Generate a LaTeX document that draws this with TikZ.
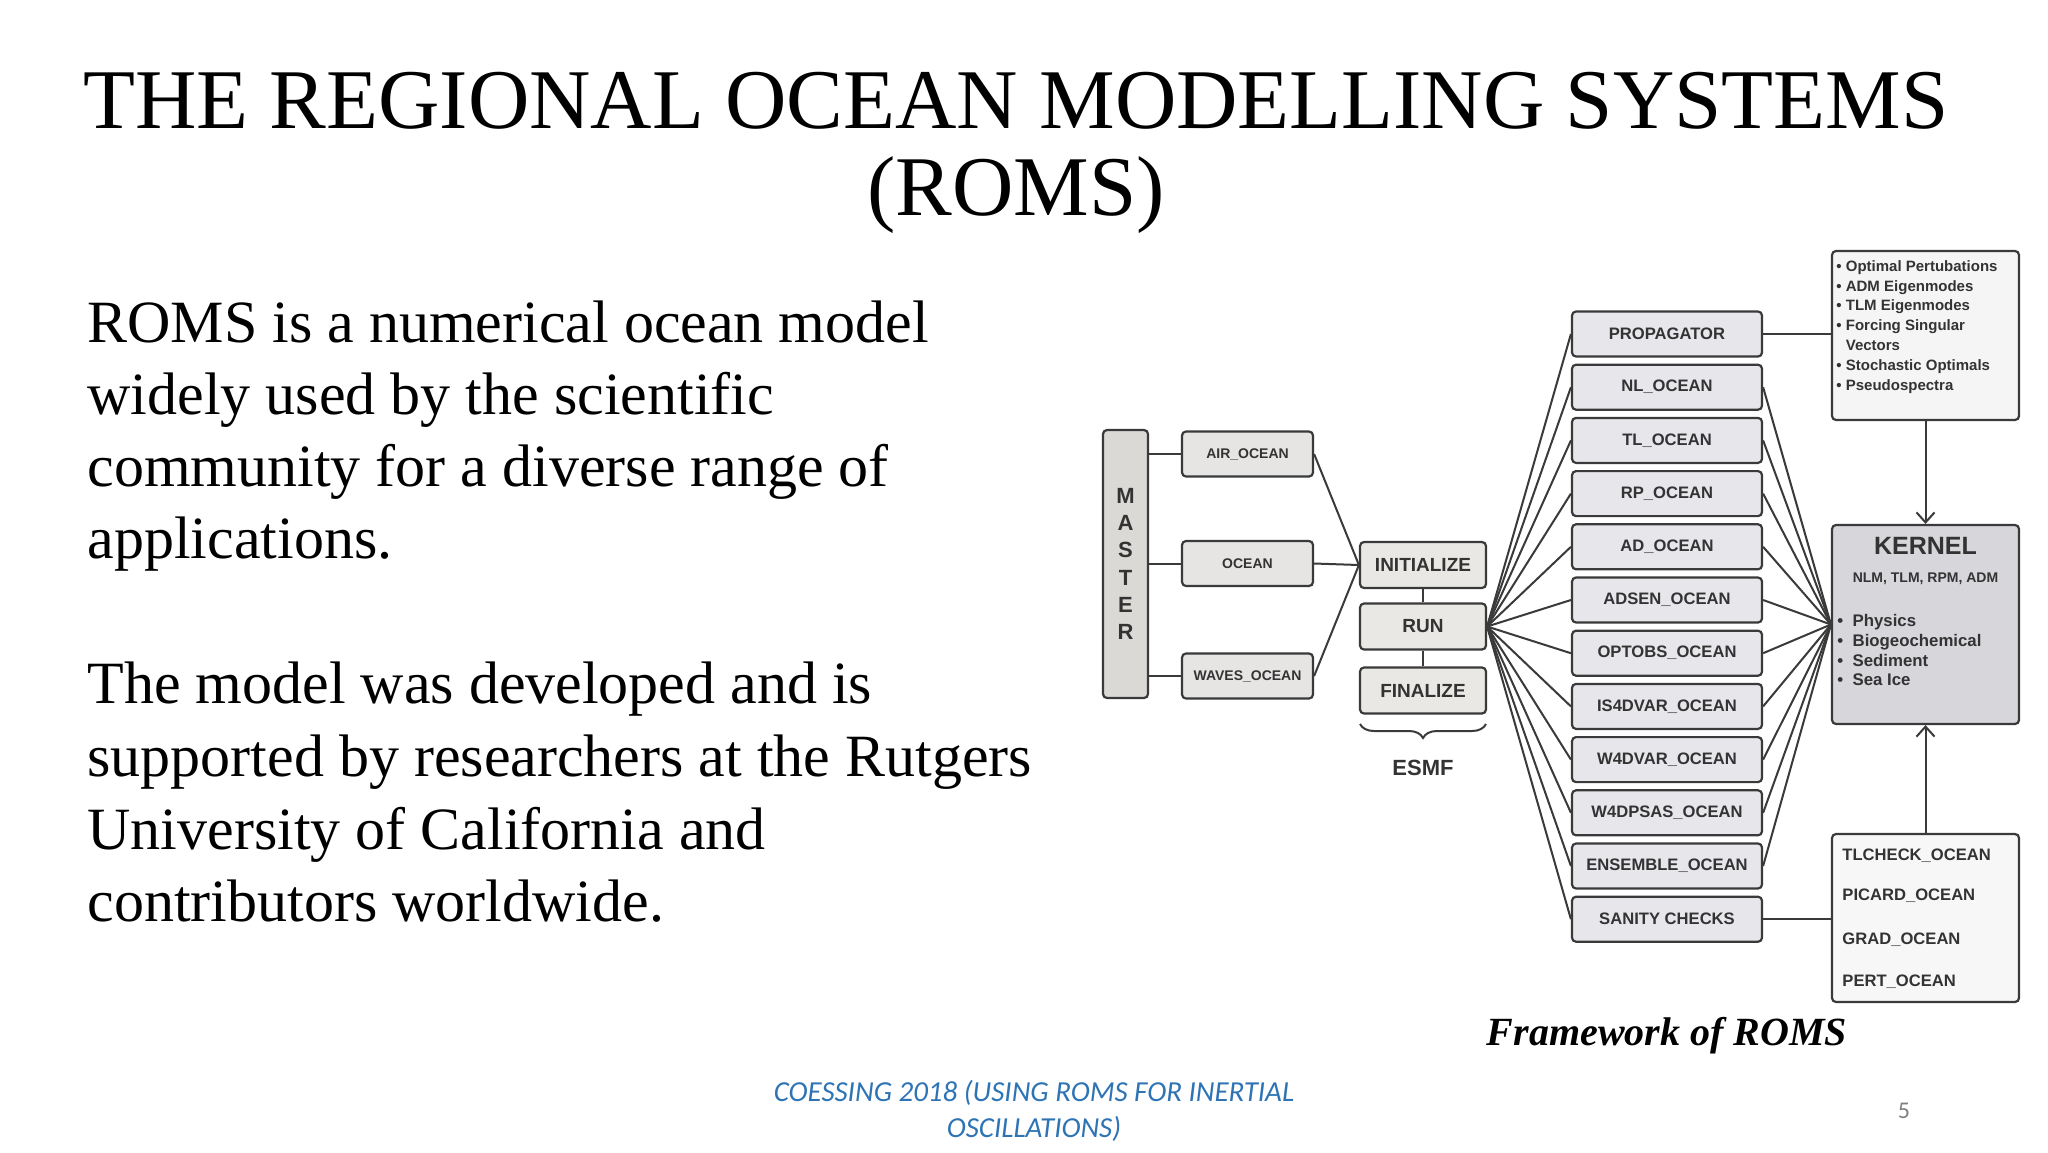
\documentclass[tikz,border=0pt]{standalone}
\usepackage{fontspec}
\setmainfont{Liberation Serif}
\newfontfamily\dsans{Liberation Sans}
\newfontfamily\carl{Carlito}
\usetikzlibrary{arrows.meta,decorations.pathreplacing}
\definecolor{lc}{HTML}{3A3A3A}
\definecolor{txtc}{HTML}{333333}
\definecolor{foot}{HTML}{2E74B5}
\tikzset{
 bx/.style={draw=lc,line width=1.1pt,rounded corners=2pt,inner sep=0pt,font=\dsans\bfseries\fontsize{8.3}{9}\selectfont,text=txtc},
 colbox/.style={bx,fill=gray!20!blue!3!white!85!gray,minimum width=95pt,minimum height=22.5pt},
 leftbox/.style={bx,fill=red!4!gray!20,minimum width=65.5pt,minimum height=22.5pt,font=\dsans\bfseries\fontsize{7}{8}\selectfont},
 esbox/.style={bx,fill=yellow!8!gray!22,minimum width=63pt,minimum height=23pt,font=\dsans\bfseries\fontsize{9.5}{11}\selectfont},
 ln/.style={draw=lc,line width=1pt},
 bodyl/.style={anchor=base west,font=\fontsize{30}{36}\selectfont,inner sep=0pt},
 listt/.style={anchor=west,inner sep=0pt,font=\dsans\bfseries\fontsize{8.3}{9}\selectfont,text=txtc}
}
\begin{document}
\begin{tikzpicture}[x=0.5pt,y=-0.5pt]
\fill[white] (0,0) rectangle (2048,1152);
\useasboundingbox (0,0) rectangle (2048,1152);
% title
\node[font=\fontsize{42.5}{48}\selectfont] (t1) at (1016,101) {THE REGIONAL OCEAN MODELLING SYSTEMS};
\node[font=\fontsize{42.5}{48}\selectfont] (t2) at (1016,195) {(ROMS)};
% body
\node[bodyl] (b1) at (87,342) {ROMS is a numerical ocean model};
\node[bodyl] (b2) at (87,414) {widely used by the scientific};
\node[bodyl] (b3) at (87,486) {community for a diverse range of};
\node[bodyl] (b4) at (87,558) {applications.};
\node[bodyl] (c1) at (87,703) {The model was developed and is};
\node[bodyl] (c2) at (87,776) {supported by researchers at the Rutgers};
\node[bodyl] (c3) at (87,849) {University of California and};
\node[bodyl] (c4) at (87,921) {contributors worldwide.};
% footer
\node[font=\carl\itshape\fontsize{14.5}{17}\selectfont,text=foot] (f1) at (1034,1093) {COESSING 2018 (USING ROMS FOR INERTIAL};
\node[font=\carl\itshape\fontsize{14.5}{17}\selectfont,text=foot] (f2) at (1034,1129) {OSCILLATIONS)};
\node[font=\carl\fontsize{12}{14}\selectfont,text=gray] (pg) at (1904,1111) {5};
\node[font=\bfseries\itshape\fontsize{20}{24}\selectfont] (fw) at (1667,1036) {Framework of ROMS};
% master
\node[bx,fill=brown!12!gray!30,minimum width=22.5pt,minimum height=134pt,font=\dsans\bfseries\fontsize{11}{13.6}\selectfont,align=center] (master) at (1125.5,564) {M\\A\\S\\T\\E\\R};
\node[leftbox] (air) at (1247.5,454) {AIR\_OCEAN};
\node[leftbox] (oce) at (1247.5,563.5) {OCEAN};
\node[leftbox] (wav) at (1247.5,676) {WAVES\_OCEAN};
\node[esbox] (ini) at (1423,565) {INITIALIZE};
\node[esbox] (run) at (1423,626.5) {RUN};
\node[esbox] (fin) at (1423,690.5) {FINALIZE};
\draw[ln,decorate,decoration={brace,mirror,amplitude=7pt}] (1360,724) -- (1486,724) coordinate[midway] (bm);
\node[font=\dsans\bfseries\fontsize{11}{13}\selectfont,text=txtc] (esmf) at (1423,768) {ESMF};
\foreach \n in {air,oce,wav} {\draw[ln] (master.east |- \n.west) -- (\n.west); \draw[ln] (\n.east) -- (ini.west);}
\draw[ln] (ini) -- (run); \draw[ln] (run) -- (fin);
% right column
\foreach \i/\t/\nm in {0/PROPAGATOR/p0,1/NL\_OCEAN/p1,2/TL\_OCEAN/p2,3/RP\_OCEAN/p3,4/AD\_OCEAN/p4,5/ADSEN\_OCEAN/p5,6/OPTOBS\_OCEAN/p6,7/IS4DVAR\_OCEAN/p7,8/W4DVAR\_OCEAN/p8,9/W4DPSAS\_OCEAN/p9,10/ENSEMBLE\_OCEAN/p10,11/SANITY CHECKS/p11}
 {\node[colbox] (\nm) at (1667,334+53.2*\i) {\t}; \draw[ln] (run.east) -- (\nm.west);}
% right boxes
\node[bx,fill=gray!8,minimum width=93.5pt,minimum height=84.5pt] (opt) at (1925.5,335.5) {};
\node[anchor=north west,align=left,inner sep=0pt,font=\dsans\bfseries\fontsize{7.5}{9.9}\selectfont,text=txtc] (optt) at (1836,260)
 {\textbullet\ Optimal Pertubations\\\textbullet\ ADM Eigenmodes\\\textbullet\ TLM Eigenmodes\\\textbullet\ Forcing Singular\\\phantom{\textbullet\ }Vectors\\\textbullet\ Stochastic Optimals\\\textbullet\ Pseudospectra};
\node[bx,fill=blue!6!gray!30,minimum width=93.5pt,minimum height=99.5pt] (ker) at (1925.5,624.5) {};
\node[font=\dsans\bfseries\fontsize{12.5}{14}\selectfont,text=txtc] (kt) at (1925.5,546) {KERNEL};
\node[font=\dsans\bfseries\fontsize{7}{8}\selectfont,text=txtc] (kt2) at (1925.5,579) {NLM, TLM, RPM, ADM};
\node[anchor=north west,align=left,inner sep=0pt,font=\dsans\bfseries\fontsize{8.4}{9.9}\selectfont,text=txtc] (kl) at (1837,614)
 {\textbullet\ \ Physics\\\textbullet\ \ Biogeochemical\\\textbullet\ \ Sediment\\\textbullet\ \ Sea Ice};
\node[bx,fill=gray!6,minimum width=93.5pt,minimum height=84pt] (chk) at (1925.5,918) {};
\node[listt] (k1) at (1842,856) {TLCHECK\_OCEAN};
\node[listt] (k2) at (1842,896) {PICARD\_OCEAN};
\node[listt] (k3) at (1842,940) {GRAD\_OCEAN};
\node[listt] (k4) at (1842,982) {PERT\_OCEAN};
\foreach \i in {1,...,10} \draw[ln] (p\i.east) -- (ker.west);
\draw[ln] (p0.east) -- (opt.west |- p0.east);
\draw[ln] (p11.east) -- (chk.west |- p11.east);
\draw[ln,-{Straight Barb[length=5pt,width=9pt]}] (opt.south) -- (ker.north);
\draw[ln,-{Straight Barb[length=5pt,width=9pt]}] (chk.north) -- (ker.south);
\end{tikzpicture}
\end{document}
